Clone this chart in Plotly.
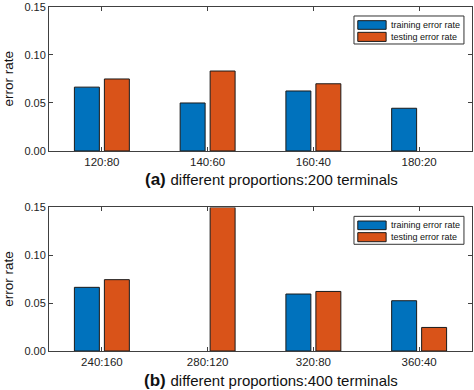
import plotly.graph_objects as go
from plotly.subplots import make_subplots

categories_a = ["120:80", "140:60", "160:40", "180:20"]
training_a = [0.0665, 0.050, 0.0625, 0.0445]
testing_a = [0.075, 0.0833, 0.070, None]

categories_b = ["240:160", "280:120", "320:80", "360:40"]
training_b = [0.0665, None, 0.0595, 0.0525]
testing_b = [0.0745, 0.15, 0.0622, 0.0246]

series_names = ["training error rate", "testing error rate"]
titles = ["different proportions:200 terminals", "different proportions:400 terminals"]
panel_tags = ["(a)", "(b)"]
y_ticks = [0, 0.05, 0.10, 0.15]

BLUE = "#0072BD"
ORANGE = "#D95319"
EDGE = "#1a1a1a"
AXC = "#404040"
FONT = "Liberation Sans, Arial, sans-serif"

fig = make_subplots(rows=2, cols=1, vertical_spacing=0.0)

panels = [(categories_a, training_a, testing_a), (categories_b, training_b, testing_b)]
for i, (cats, tr, te) in enumerate(panels, start=1):
    fig.add_trace(go.Bar(x=cats, y=tr, name=series_names[0], marker=dict(color=BLUE, line=dict(color=EDGE, width=1)),
                         showlegend=False), row=i, col=1)
    fig.add_trace(go.Bar(x=cats, y=te, name=series_names[1], marker=dict(color=ORANGE, line=dict(color=EDGE, width=1)),
                         showlegend=False), row=i, col=1)

axis_common = dict(showline=True, mirror="ticks", linecolor=AXC, linewidth=1, ticks="inside", ticklen=4,
                   tickcolor=AXC, showgrid=False, zeroline=False)

fig.update_xaxes(**axis_common, tickfont=dict(family=FONT, size=11.5, color="#222"))
fig.update_yaxes(**axis_common, range=[0, 0.15], tickvals=y_ticks, tickformat=".2f",
                 tickfont=dict(family=FONT, size=11, color="#222"))

fig.update_layout(yaxis=dict(domain=[0.5815, 1.0]), yaxis2=dict(domain=[0.0, 0.4175]),
                  xaxis=dict(domain=[0, 1]), xaxis2=dict(domain=[0, 1]))

annotations = []
shapes = []
for i in range(2):
    xr = "x domain" if i == 0 else "x2 domain"
    yr = "y domain" if i == 0 else "y2 domain"
    # y-axis title
    annotations.append(dict(text="error rate", xref=xr, yref=yr, x=0, y=0.5, xanchor="center", yanchor="middle",
                            xshift=-40.5, textangle=-90, showarrow=False,
                            font=dict(family=FONT, size=13.5, color="#111")))
    # panel title
    annotations.append(dict(text="<b>" + panel_tags[i] + "</b> <span style='font-size:15px'>" + titles[i] + "</span>",
                            xref=xr, yref=yr, x=0.525, y=0, xanchor="center", yanchor="middle", yshift=-29,
                            showarrow=False, font=dict(family=FONT, size=17, color="#111")))
    # legend box
    shapes.append(dict(type="rect", xref=xr, yref=yr, x0=0.721, x1=0.981, y0=0.743, y1=0.9375,
                       line=dict(color="#333", width=1), fillcolor="white"))
    for j, (col, name) in enumerate(zip([BLUE, ORANGE], series_names)):
        y0 = [0.845, 0.761][j]
        y1 = [0.905, 0.824][j]
        shapes.append(dict(type="rect", xref=xr, yref=yr, x0=0.730, x1=0.797, y0=y0, y1=y1,
                           line=dict(color=EDGE, width=1), fillcolor=col))
        annotations.append(dict(text=name, xref=xr, yref=yr, x=0.803, y=(y0 + y1) / 2, xanchor="left",
                                yanchor="middle", showarrow=False, font=dict(family=FONT, size=9, color="#111")))

fig.update_layout(
    width=474, height=390,
    margin=dict(l=49, r=2, t=7, b=39),
    paper_bgcolor="white", plot_bgcolor="white",
    barmode="group", bargap=0.433, bargroupgap=0.167,
    annotations=annotations, shapes=shapes,
    showlegend=False,
)

fig.write_html("out.html", config={"displayModeBar": False},
               post_script="document.body.style.margin='0';document.body.style.overflow='hidden';")
